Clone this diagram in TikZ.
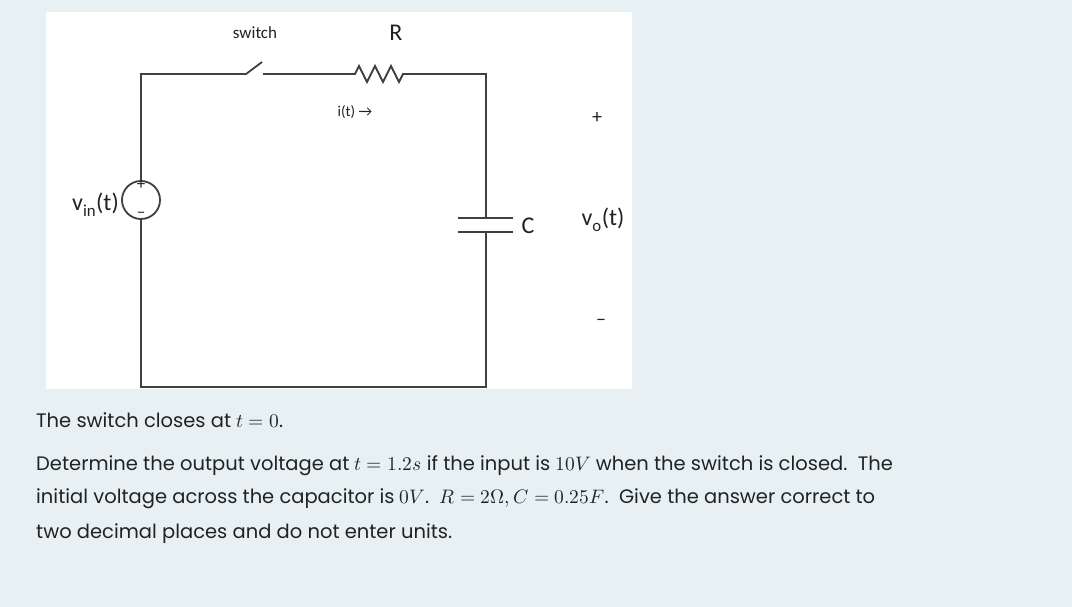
\documentclass[tikz,border=0pt]{standalone}
\usepackage{fontspec}
\setmainfont{Poppins}
\newfontfamily\calfnt{Carlito}
\usepackage{unicode-math}
\setmathfont{Latin Modern Math}
\definecolor{bg}{HTML}{E7F1F4}
\definecolor{wire}{HTML}{404040}
\definecolor{txt}{HTML}{222222}
\begin{document}
\begin{tikzpicture}[x=1pt,y=-1pt,
  w/.style={draw=wire,line width=1.8pt},
  lab/.style={font=\calfnt\fontsize{17}{19}\selectfont,text=txt,inner sep=0},
  para/.style={anchor=west,font=\fontsize{19.5}{22}\selectfont,text=txt,inner sep=0}]
\fill[bg] (0,0) rectangle (1072,607);
\fill[white] (46,12) rectangle (632,389);
\coordinate (tl) at (141,74); \coordinate (tr) at (486,74);
\coordinate (bl) at (141,387); \coordinate (br) at (486,387);
\node[circle,draw=wire,line width=1.8pt,minimum size=38pt,inner sep=0] (src) at (141,200) {};
\node[lab] at (141,185) {+};
\node[lab] at (141,215) {\textendash};
\coordinate (sw1) at (246,74); \coordinate (sw2) at (262,62); \coordinate (sw3) at (263,74);
\coordinate (r1) at (355,74); \coordinate (r2) at (408,74);
\coordinate (c1) at (486,218); \coordinate (c2) at (486,232);
\draw[w] (src.north) -- (tl) -- (sw1) -- (sw2);
\draw[w] (sw3) -- (r1) -- ++(4,-8) -- ++(8,16) -- ++(8,-16) -- ++(8,16) -- ++(8,-16) -- ++(8,16) -- ++(4,-8) -- (r2) -- (tr) -- (c1);
\draw[w] (458,218) -- (513,218);
\draw[w] (458,232) -- (513,232);
\draw[w] (c2) -- (br) -- (bl) -- (src.south);
\node[lab] at (255,33) {switch};
\node[lab,font=\calfnt\fontsize{24}{26}\selectfont] at (396,33) {R};
\node[lab,font=\calfnt\fontsize{15}{17}\selectfont] at (355,112) {i(t) →};
\node[lab,font=\calfnt\fontsize{24}{26}\selectfont] at (528,226) {C};
\node[lab,font=\calfnt\fontsize{20}{22}\selectfont] at (597,118) {+};
\node[lab,font=\calfnt\fontsize{20}{22}\selectfont] at (601,322) {\textendash};
\node[lab,font=\calfnt\fontsize{24}{26}\selectfont] at (603,220) {v\textsubscript{o}(t)};
\node[lab,font=\calfnt\fontsize{24}{26}\selectfont,anchor=east] at (119,205) {v\textsubscript{in}(t)};
\node[para] at (36,420) {The switch closes at $t=0$.};
\node[para] at (36,466) {Determine the output voltage at $t=1.2s$ if the input is $10V$ when the switch is closed.\ \ The};
\node[para] at (36,499) {initial voltage across the capacitor is $0V$.\ \ $R=2\Omega, C=0.25F$.\ \ Give the answer correct to};
\node[para] at (36,534) {two decimal places and do not enter units.};
\end{tikzpicture}
\end{document}
